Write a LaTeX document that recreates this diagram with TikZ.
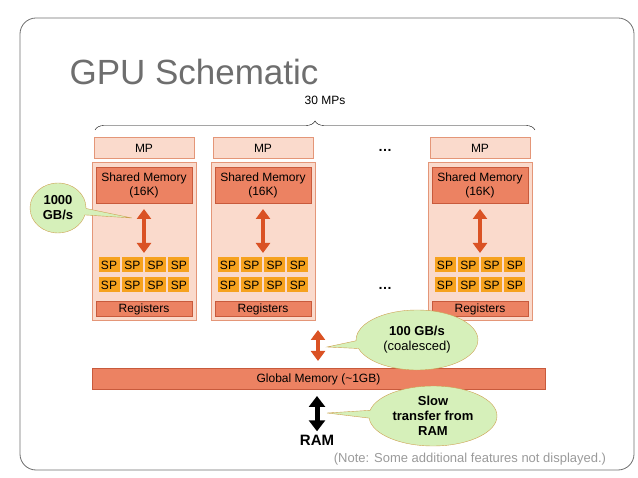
\documentclass[tikz,border=0pt]{standalone}
\usepackage{fontspec}
\setmainfont{Liberation Sans}
\usetikzlibrary{arrows.meta,shapes.callouts,decorations.pathreplacing}
\definecolor{colfill}{RGB}{250,218,204}
\definecolor{colline}{RGB}{228,150,120}
\definecolor{memfill}{RGB}{236,130,98}
\definecolor{memline}{RGB}{200,90,60}
\definecolor{spfill}{RGB}{246,162,30}
\definecolor{arrowred}{RGB}{218,82,36}
\definecolor{bubblefill}{RGB}{214,240,186}
\definecolor{bubbleline}{RGB}{205,160,80}
\definecolor{titlegray}{RGB}{110,110,110}

\begin{document}
\begin{tikzpicture}[x=1pt,y=-1pt]
    % Define styles
    \tikzset{
      lbl/.style={font=\fontsize{12}{14}\selectfont},
      column/.style={rectangle, draw=colline, fill=colfill, minimum width=104pt, minimum height=158pt},
      mp/.style={rectangle, draw=colline, fill=colfill, minimum width=100pt, minimum height=21pt, lbl},
      mem/.style={rectangle, draw=memline, fill=memfill, lbl, align=center},
      sp/.style={rectangle, fill=spfill, minimum width=21pt, minimum height=15pt, inner sep=0pt, lbl},
      dbl/.style={line width=4.5pt, draw=arrowred, {Triangle[width=14pt,length=10pt]}-{Triangle[width=14pt,length=10pt]}},
      bubble/.style={ellipse callout, draw=bubbleline, fill=bubblefill, align=center, inner sep=1pt, font=\fontsize{13}{15}\selectfont},
      dots/.style={font=\fontsize{14}{16}\selectfont\bfseries}
    }
    \useasboundingbox (0,0) rectangle (638,478);
    \draw[titlegray, line width=0.8pt, rounded corners=16pt] (20,18) rectangle (634,470);
    \node (title) [anchor=west, text=titlegray, font=\fontsize{35}{38}\selectfont] at (66,72) {GPU Schematic};

    % Brace
    \draw[decorate, decoration={brace, amplitude=9pt}] (95,130) -- (535,130);
    \node (count) [lbl] at (325,100) {30 MPs};

    % Columns
    \foreach \name/\x in {a/144, b/263, c/480} {
      \node (mp\name) [mp] at (\x,148) {MP};
      \node (col\name) [column] at (\x,241) {};
      \node (sm\name) [mem, minimum width=96pt, minimum height=36pt] at (\x,185) {Shared Memory\\(16K)};
      \node (reg\name) [mem, minimum width=96pt, minimum height=15pt, inner sep=0pt] at (\x,309) {Registers};
      \foreach \i in {0,1,2,3} {
        \node (spa\name\i) [sp] at (\x-35+23.3*\i,265) {SP};
        \node (spb\name\i) [sp] at (\x-35+23.3*\i,285) {SP};
      }
      \coordinate (up\name) at (\x,209);
      \coordinate (down\name) at (\x,253);
      \draw[dbl] (up\name) -- (down\name);
    }
    \node (dotstop) [dots] at (385,150) {\dots};
    \node (dotsbot) [dots] at (385,288) {\dots};

    % Global memory and RAM
    \node (global) [mem, minimum width=453pt, minimum height=21pt] at (318.5,379) {Global Memory (\textasciitilde1GB)};
    \coordinate (gtop) at (318,330);
    \coordinate (gbot) at (318,361);
    \draw[dbl, line width=4pt] (gtop) -- (gbot);
    \node (ram) [font=\fontsize{15}{17}\selectfont\bfseries] at (317,440) {RAM};
    \draw[line width=5pt, {Triangle[width=16pt,length=11pt]}-{Triangle[width=16pt,length=11pt]}] (317,396) -- (ram.north);

    % Callouts
    \node (fast) [bubble, font=\fontsize{13}{15}\selectfont\bfseries, minimum width=56pt, minimum height=50pt, callout absolute pointer={(132,218)}] at (58,208) {1000\\GB/s};
    \node (coal) [bubble, minimum width=122pt, minimum height=60pt, callout absolute pointer={(327,347)}] at (417,340) {\textbf{100 GB/s}\\(coalesced)};
    \node (slow) [bubble, font=\fontsize{13}{15}\selectfont\bfseries, minimum width=128pt, minimum height=60pt, callout absolute pointer={(327,413)}] at (433,416) {Slow\\transfer from\\RAM};

    \node (note) [text=titlegray!70, font=\fontsize{13}{15}\selectfont] at (470,459) {(Note: Some additional features not displayed.)};
\end{tikzpicture}
\end{document}
